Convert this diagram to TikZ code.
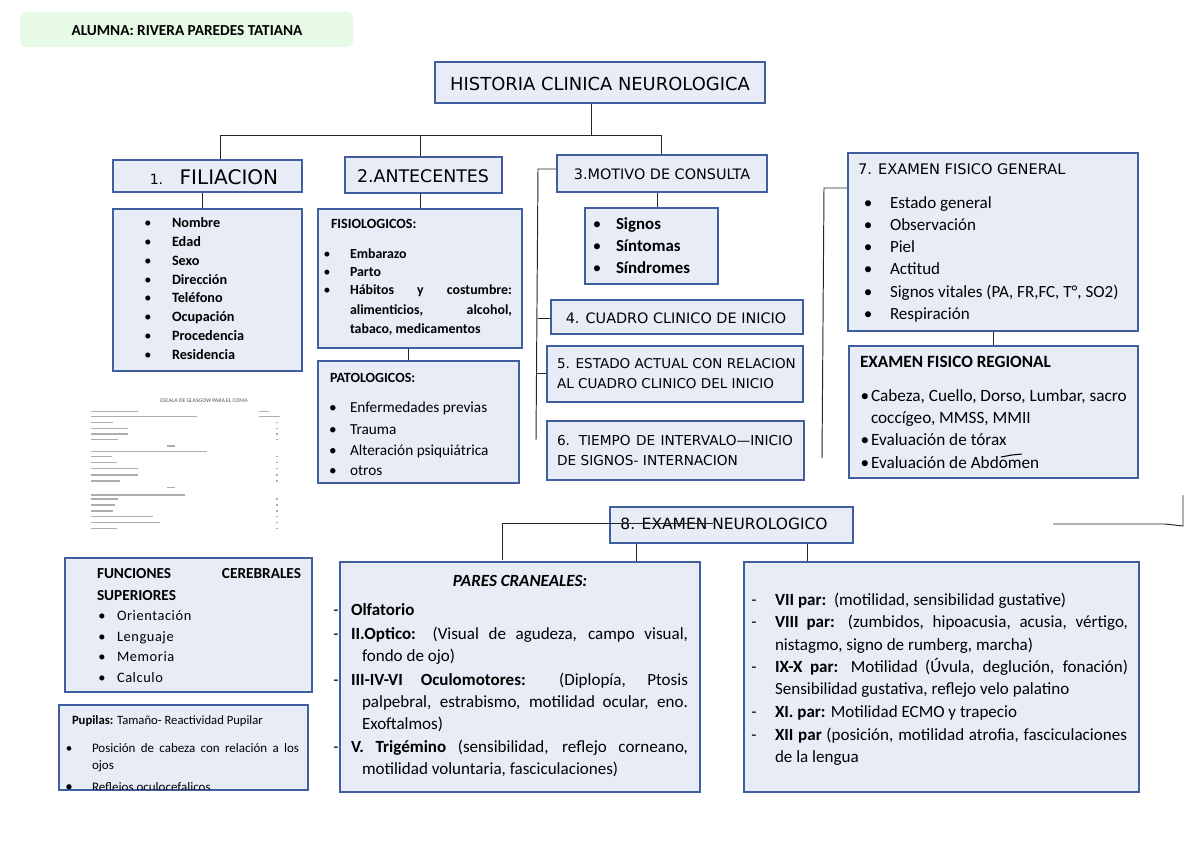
\documentclass[tikz,border=0pt]{standalone}
\usepackage{fontspec}
\setmainfont{Carlito}
\newfontfamily\comic{DejaVu Sans}
\usetikzlibrary{fit,calc}
\newlength\pxu \setlength\pxu{0.02cm}
\newcommand\fsz[1]{\fontsize{#1}{#1}\selectfont}
\newcommand\jst[2]{\makebox[#1\pxu][s]{#2}}
\definecolor{boxfill}{RGB}{231,236,246}
\definecolor{boxline}{RGB}{63,95,160}
\definecolor{greenfill}{RGB}{231,250,229}
\tikzset{
 box/.style={draw=boxline, fill=boxfill, line width=1.1pt, inner sep=0pt},
 conn/.style={draw=black!85, line width=0.55pt},
 tl/.style={anchor=base west, inner sep=0pt, outer sep=0pt},
 tb/.style={anchor=base, inner sep=0pt, outer sep=0pt},
 tc/.style={anchor=center, inner sep=0pt, outer sep=0pt},
 glas/.style={draw=black!32, line width=0.75pt},
}
\begin{document}
\begin{tikzpicture}[x=0.02cm, y=-0.02cm]
\path[use as bounding box, fill=white] (0,0) rectangle (1200,848);

% ---------- header ----------
\node[fill=greenfill, rounded corners=0.12cm, inner sep=0pt, fit={(20,12)(353,47)}] (alu) {};
\node[tc] (alut) at (187,31) {\fsz{8.7}\bfseries ALUMNA: RIVERA PAREDES TATIANA};

\node[box, fit={(435,62)(765,103)}] (title) {};
\node[tc] (titlet) at (600,84) {\comic\fsz{10.2}HISTORIA CLINICA NEUROLOGICA};

% ---------- top tree ----------
\coordinate (t0) at (591,135);
\coordinate (j1) at (220,135);
\coordinate (j2) at (420,135);
\coordinate (j3) at (661,135);

% ---------- 1 FILIACION ----------
\node[box, fit={(113,160)(302,192)}] (fil) {};
\node[tc] (filt) at (214,177) {\comic{\fsz{8}1.}\hspace{0.33cm}{\fsz{11.4}FILIACION}};
\node[box, fit={(113,209)(302,371)}] (fill) {};
\foreach \y/\t [count=\i] in {227/Nombre,246/Edad,265/Sexo,284/Dirección,302/Teléfono,321/Ocupación,340/Procedencia,359/Residencia}{
  \node[tb] (flb\i) at (148,\y) {\fsz{8.1}\textbullet};
  \node[tl] (flt\i) at (172,\y) {\fsz{8.1}\bfseries \t};
}

% ---------- 2 ANTECENTES ----------
\node[box, fit={(345,157)(502,193)}] (ant) {};
\node[tc] (antt) at (423,176) {\comic\fsz{9.9}2.ANTECENTES};
\node[box, fit={(318,209)(522,348)}] (fis) {};
\node[tl] (fist) at (331,228) {\fsz{8}\bfseries FISIOLOGICOS:};
\node[tb] (fisb1) at (327,258) {\fsz{7.9}\textbullet};
\node[tl] (fisi1) at (350,258) {\fsz{7.9}\bfseries Embarazo};
\node[tb] (fisb2) at (327,276) {\fsz{7.9}\textbullet};
\node[tl] (fisi2) at (350,276) {\fsz{7.9}\bfseries Parto};
\node[tb] (fisb3) at (327,294) {\fsz{7.9}\textbullet};
\node[tl] (fisi3) at (350,294) {\fsz{7.9}\bfseries \jst{162}{Hábitos y costumbre:}};
\node[tl] (fisi4) at (350,314) {\fsz{7.9}\bfseries \jst{162}{alimenticios, alcohol,}};
\node[tl] (fisi5) at (350,333) {\fsz{7.9}\bfseries tabaco, medicamentos};

\node[box, fit={(318,361)(519,483)}] (pat) {};
\node[tl] (patt) at (330,382) {\fsz{8}\bfseries PATOLOGICOS:};
\foreach \y/\t [count=\i] in {412/Enfermedades previas,434/Trauma,455/Alteración psiquiátrica,475/otros}{
  \node[tb] (patb\i) at (333,\y) {\fsz{8.7}\textbullet};
  \node[tl] (pati\i) at (350,\y) {\fsz{8.7}\t};
}

% ---------- 3 MOTIVO ----------
\node[box, fit={(557,155)(767,192)}] (mot) {};
\node[tc] (mott) at (662,174) {\comic\fsz{8.2}3.MOTIVO DE CONSULTA};
\node[box, fit={(585,208)(718,284)}] (sig) {};
\foreach \y/\t [count=\i] in {229/Signos,251/Síntomas,273/Síndromes}{
  \node[tb] (sigb\i) at (597,\y) {\fsz{9.6}\textbullet};
  \node[tl] (sigi\i) at (616,\y) {\fsz{9.6}\bfseries \t};
}
\node[box, fit={(551,300)(803,334)}] (cua) {};
\node[tc] (cuat) at (676,318) {\comic\fsz{8.2}4. CUADRO CLINICO DE INICIO};
\node[box, fit={(547,346)(803,402)}] (est) {};
\node[tl] (est1) at (557,368) {\comic\fsz{7.7}5. ESTADO ACTUAL CON RELACION};
\node[tl] (est2) at (557,388) {\comic\fsz{7.7}AL CUADRO CLINICO DEL INICIO};
\node[box, fit={(547,421)(804,480)}] (tie) {};
\node[tl] (tie1) at (557,445) {\comic\fsz{7.8}\jst{236}{6. TIEMPO DE INTERVALO—INICIO}};
\node[tl] (tie2) at (557,465) {\comic\fsz{7.8}DE SIGNOS- INTERNACION};

% ---------- 7 EXAMEN FISICO ----------
\node[box, fit={(848,153)(1138,331)}] (gen) {};
\node[tl] (gent) at (858,174) {\comic\fsz{8.3}7. EXAMEN FISICO GENERAL};
\foreach \y/\t [count=\i] in {208/Estado general,230/Observación,252/Piel,274/Actitud,297/{Signos vitales (PA, FR,FC, T°, SO2)},319/Respiración}{
  \node[tb] (genb\i) at (868,\y) {\fsz{9.7}\textbullet};
  \node[tl] (geni\i) at (890,\y) {\fsz{9.7}\t};
}
\node[box, fit={(849,346)(1138,478)}] (reg) {};
\node[tl] (regt) at (860,367) {\fsz{9.8}\bfseries EXAMEN FISICO REGIONAL};
\node[tb] (regb1) at (865,401) {\fsz{9.8}\textbullet};
\node[tl] (regi1) at (871,401) {\fsz{9.8}Cabeza, Cuello, Dorso, Lumbar, sacro};
\node[tl] (regi2) at (871,423) {\fsz{9.8}coccígeo, MMSS, MMII};
\node[tb] (regb3) at (865,445) {\fsz{9.8}\textbullet};
\node[tl] (regi3) at (871,445) {\fsz{9.8}Evaluación de tórax};
\node[tb] (regb4) at (865,468) {\fsz{9.8}\textbullet};
\node[tl] (regi4) at (871,468) {\fsz{9.8}Evaluación de Abdomen};
\draw[line width=0.6pt] (1001,457) -- (1012,455) -- (1022,454);

% ---------- Glasgow scale (blurred picture) ----------
\node[tc, text=black!50] (glt) at (204,401) {\fsz{3.2}\bfseries ESCALA DE GLASGOW PARA EL COMA};
\foreach \y/\xe/\d in {411.7/138/0,416.7/197/0,422.7/113/1,428.3/128/1,434/128/1,439.3/118/1,451.7/207/0,456.7/112/1,462.3/117/1,468.3/138/1,475/138/1,481/120/1,495/185/0,499/118/1,505/115/1,511/113/1,516.7/153/1,522.3/160/1,528.3/117/1}{
  \draw[glas] (91,\y) -- (\xe,\y);
  \ifnum\d=1 \draw[glas] (276,\y) -- (278,\y); \fi
}
\draw[glas] (259,411.7) -- (269,411.7);
\draw[glas] (259,416.7) -- (280,416.7);
\draw[glas] (167,446) -- (175,446);
\draw[glas] (167,487.3) -- (175,487.3);

% ---------- 8 EXAMEN NEUROLOGICO ----------
\node[box, fit={(610,507)(853,543)}] (neu) {};
\node[tc] (neut) at (724,524) {\comic\fsz{8.8}8. EXAMEN NEUROLOGICO};
\coordinate (s1) at (713,523);
\coordinate (s2) at (502,523);
\coordinate (s3) at (502,560);

\node[box, fit={(340,562)(700,792)}] (par) {};
\node[tc] (part) at (520,581) {\fsz{9.7}\bfseries\itshape PARES CRANEALES:};
\node[tl] (par1) at (351,615) {\fsz{9.7}\bfseries Olfatorio};
\node[tl] (par2) at (351,639) {\fsz{9.7}\jst{337}{\textbf{II.Optico:} (Visual de agudeza, campo visual,}};
\node[tl] (par3) at (362,661) {\fsz{9.7}fondo de ojo)};
\node[tl] (par4) at (351,685) {\fsz{9.7}\jst{337}{\textbf{III-IV-VI Oculomotores:} (Diplopía, Ptosis}};
\node[tl] (par5) at (362,707) {\fsz{9.7}\jst{326}{palpebral, estrabismo, motilidad ocular, eno.}};
\node[tl] (par6) at (362,729) {\fsz{9.7}Exoftalmos)};
\node[tl] (par7) at (351,752) {\fsz{9.7}\jst{337}{\textbf{V. Trigémino} (sensibilidad, reflejo corneano,}};
\node[tl] (par8) at (362,774) {\fsz{9.7}motilidad voluntaria, fasciculaciones)};
\foreach \y [count=\i] in {615,639,685,752}{
  \node[tb] (pard\i) at (336,\y) {\fsz{9.7}-};
}

\node[box, fit={(744,562)(1139,792)}] (rig) {};
\node[tl] (rig1) at (775,605) {\fsz{9.7}\textbf{VII par:}\ \ (motilidad, sensibilidad gustative)};
\node[tl] (rig2) at (775,627) {\fsz{9.7}\jst{353}{\textbf{VIII par:} (zumbidos, hipoacusia, acusia, vértigo,}};
\node[tl] (rig3) at (775,650) {\fsz{9.7}nistagmo, signo de rumberg, marcha)};
\node[tl] (rig4) at (775,672) {\fsz{9.7}\jst{353}{\textbf{IX-X par:} Motilidad (Úvula, deglución, fonación)}};
\node[tl] (rig5) at (775,694) {\fsz{9.7}Sensibilidad gustativa, reflejo velo palatino};
\node[tl] (rig6) at (775,717) {\fsz{9.7}\textbf{XI. par:} Motilidad ECMO y trapecio};
\node[tl] (rig7) at (775,740) {\fsz{9.7}\jst{352}{\textbf{XII par} (posición, motilidad atrofia, fasciculaciones}};
\node[tl] (rig8) at (775,762) {\fsz{9.7}de la lengua};
\foreach \y [count=\i] in {605,627,672,717,740}{
  \node[tb] (rigd\i) at (754,\y) {\fsz{9.7}-};
}

% stray lines right
\coordinate (r1) at (1053,524);
\coordinate (r2) at (1165,524);
\coordinate (r3) at (1183,526);
\coordinate (r4) at (1183,495);
\draw[conn] (r1) -- (r2) -- (r3) -- (r4);

% ---------- FUNCIONES ----------
\node[box, fit={(65,558)(312,692)}] (fun) {};
\node[tl] (funt1) at (97,578) {\fsz{8.7}\bfseries \jst{204}{FUNCIONES CEREBRALES}};
\node[tl] (funt2) at (97,600) {\fsz{8.7}\bfseries SUPERIORES};
\foreach \y/\t [count=\i] in {620/Orientación,641/Lenguaje,661/Memoria,682/Calculo}{
  \node[tb] (funb\i) at (102,\y) {\fsz{8.2}\textbullet};
  \node[tl] (funi\i) at (117,\y) {\fsz{8.2}\addfontfeature{LetterSpace=4}\t};
}

% ---------- PUPILAS ----------
\node[box, fit={(59,705)(308,790)}] (pup) {};
\begin{scope}
\clip (59,705) rectangle (308,789);
\node[tl] (pupt) at (72,724) {\fsz{7.2}\textbf{Pupilas:} Tamaño- Reactividad Pupilar};
\node[tb] (pupb1) at (69,752) {\fsz{7.4}\textbullet};
\node[tl] (pupi1) at (92,752) {\fsz{7.4}\jst{207}{Posición de cabeza con relación a los}};
\node[tl] (pupi2) at (92,769) {\fsz{7.4}ojos};
\node[tb] (pupb2) at (69,791) {\fsz{8.5}\textbullet};
\node[tl] (pupi3) at (92,791) {\fsz{7.4}Reflejos oculocefalicos};
\end{scope}

% ---------- connectors ----------
\draw[conn] (title.south -| t0) -- (t0);
\draw[conn] (j1) -- (j3);
\draw[conn] (j1) -- (fil.north -| j1);
\draw[conn] (j2) -- (ant.north -| j2);
\draw[conn] (j3) -- (mot.north -| j3);
\coordinate (c1) at (202,200);
\draw[conn] (fil.south -| c1) -- (fill.north -| c1);
\coordinate (c2) at (420,200);
\draw[conn] (ant.south -| c2) -- (fis.north -| c2);
\coordinate (c3) at (408,350);
\draw[conn] (fis.south -| c3) -- (pat.north -| c3);
\coordinate (c4) at (657,200);
\draw[conn] (mot.south -| c4) -- (sig.north -| c4);
\coordinate (b1) at (538,169);
\coordinate (b2) at (536,440);
\coordinate (b3) at (538,318);
\coordinate (b4) at (537,373);
\draw[conn] (mot.west |- b1) -- (b1) -- (b2);
\draw[conn] (b3) -- (cua.west |- b3);
\draw[conn] (b4) -- (est.west |- b4);
\coordinate (e1) at (824,188);
\coordinate (e2) at (822,458);
\draw[conn] (gen.west |- e1) -- (e1) -- (e2);
\coordinate (c5) at (993,340);
\draw[conn] (gen.south -| c5) -- (reg.north -| c5);
\draw[conn] (s1) -- (s2) -- (s3);
\coordinate (c6) at (636,550);
\coordinate (c7) at (807,550);
\draw[conn] (neu.south -| c6) -- (par.north -| c6);
\draw[conn] (neu.south -| c7) -- (rig.north -| c7);
\end{tikzpicture}
\end{document}
